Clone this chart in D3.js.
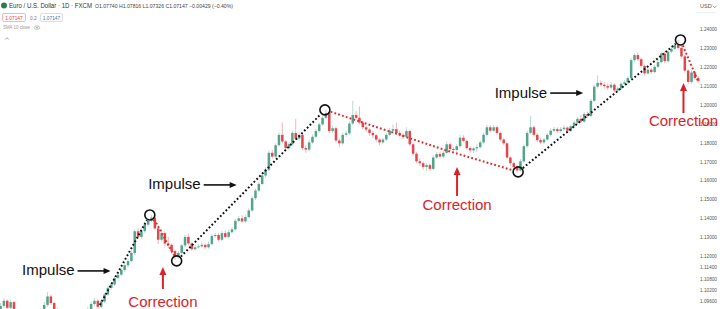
<!DOCTYPE html>
<html><head><meta charset="utf-8">
<script src="https://cdn.jsdelivr.net/npm/d3@7"></script>
<style>html,body{margin:0;padding:0;background:#fff;overflow:hidden}</style>
</head><body><svg id="c" width="720" height="309"></svg>
<script>
// ---- DATA (EUR/USD daily candles) ----
const opens = [
1.0900,1.0935,1.0962,1.0925,1.0955,1.0905,1.0880,1.0868,1.0885,1.0872,
1.0860,1.0878,1.0890,1.0912,1.0940,1.0985,1.0950,1.0915,1.0893,1.0875,
1.0888,1.0870,1.0858,1.0875,1.0890,1.0880,1.0900,1.0918,1.0945,1.0962,
1.0930,1.0958,1.0995,1.1030,1.1048,1.1082,1.1100,1.1125,1.1150,1.1172,
1.1215,1.1330,1.1300,1.1330,1.1365,1.1385,1.1402,1.1345,1.1285,1.1320,
1.1265,1.1258,1.1225,1.1195,1.1215,1.1255,1.1300,1.1265,1.1235,1.1245,
1.1250,1.1258,1.1245,1.1262,1.1305,1.1310,1.1285,1.1320,1.1300,1.1325,
1.1340,1.1385,1.1398,1.1382,1.1405,1.1440,1.1505,1.1545,1.1580,1.1625,
1.1655,1.1745,1.1725,1.1785,1.1840,1.1805,1.1770,1.1790,1.1850,1.1820,
1.1840,1.1770,1.1762,1.1800,1.1830,1.1860,1.1895,1.1930,1.1955,1.1860,
1.1875,1.1810,1.1795,1.1840,1.1848,1.1900,1.1945,1.1930,1.1905,1.1880,
1.1868,1.1850,1.1838,1.1815,1.1800,1.1815,1.1840,1.1862,1.1870,1.1850,
1.1840,1.1830,1.1860,1.1790,1.1740,1.1700,1.1690,1.1670,1.1680,1.1660,
1.1720,1.1738,1.1725,1.1745,1.1790,1.1765,1.1760,1.1780,1.1825,1.1808,
1.1770,1.1758,1.1768,1.1775,1.1800,1.1840,1.1880,1.1862,1.1880,1.1850,
1.1815,1.1795,1.1720,1.1690,1.1670,1.1652,1.1700,1.1780,1.1850,1.1880,
1.1840,1.1812,1.1800,1.1815,1.1840,1.1862,1.1870,1.1860,1.1870,1.1878,
1.1862,1.1885,1.1905,1.1925,1.1910,1.1950,1.1940,1.2020,1.2095,1.2115,
1.2105,1.2098,1.2090,1.2105,1.2075,1.2085,1.2110,1.2118,1.2140,1.2235,
1.2262,1.2240,1.2205,1.2165,1.2185,1.2172,1.2200,1.2225,1.2270,1.2230,
1.2280,1.2295,1.2315,1.2300,1.2255,1.2180,1.2120,1.2170,1.2140];
const highs = [
1.0950,1.0975,1.0970,1.0968,1.0960,1.0912,1.0890,1.0895,1.0893,1.0880,
1.0888,1.0902,1.0920,1.0955,1.1008,1.0995,1.0958,1.0925,1.0900,1.0898,
1.0895,1.0878,1.0885,1.0900,1.0898,1.0910,1.0930,1.0958,1.0975,1.0970,
1.0968,1.1005,1.1040,1.1060,1.1092,1.1115,1.1138,1.1165,1.1185,1.1228,
1.1340,1.1345,1.1345,1.1380,1.1398,1.1416,1.1408,1.1352,1.1340,1.1330,
1.1300,1.1265,1.1232,1.1225,1.1262,1.1312,1.1318,1.1272,1.1258,1.1262,
1.1270,1.1265,1.1275,1.1315,1.1322,1.1320,1.1332,1.1335,1.1338,1.1352,
1.1395,1.1410,1.1415,1.1418,1.1452,1.1515,1.1555,1.1592,1.1640,1.1668,
1.1758,1.1760,1.1795,1.1852,1.1905,1.1812,1.1802,1.1862,1.1925,1.1852,
1.1848,1.1785,1.1812,1.1842,1.1872,1.1905,1.1942,1.1972,1.1962,1.1888,
1.1882,1.1820,1.1852,1.1862,1.1912,1.2020,1.1965,1.1990,1.1912,1.1890,
1.1875,1.1860,1.1845,1.1822,1.1825,1.1850,1.1875,1.1895,1.1905,1.1862,
1.1850,1.1880,1.1868,1.1798,1.1748,1.1715,1.1698,1.1690,1.1690,1.1732,
1.1750,1.1750,1.1755,1.1805,1.1800,1.1775,1.1790,1.1840,1.1838,1.1815,
1.1780,1.1778,1.1790,1.1812,1.1852,1.1892,1.1892,1.1892,1.1888,1.1858,
1.1822,1.1802,1.1728,1.1698,1.1678,1.1712,1.1790,1.1862,1.1940,1.1890,
1.1848,1.1822,1.1825,1.1850,1.1875,1.1882,1.1880,1.1882,1.1890,1.1885,
1.1895,1.1915,1.1935,1.1945,1.1960,1.1962,1.2030,1.2105,1.2155,1.2128,
1.2118,1.2112,1.2118,1.2112,1.2095,1.2120,1.2130,1.2150,1.2245,1.2272,
1.2275,1.2248,1.2212,1.2195,1.2195,1.2212,1.2235,1.2280,1.2282,1.2290,
1.2308,1.2325,1.2342,1.2320,1.2262,1.2190,1.2182,1.2178,1.2150];
const lows = [
1.0885,1.0925,1.0910,1.0915,1.0890,1.0865,1.0855,1.0858,1.0860,1.0848,
1.0850,1.0868,1.0880,1.0905,1.0930,1.0940,1.0900,1.0880,1.0862,1.0865,
1.0860,1.0845,1.0850,1.0865,1.0870,1.0872,1.0890,1.0910,1.0935,1.0920,
1.0922,1.0950,1.0988,1.1020,1.1040,1.1075,1.1092,1.1115,1.1140,1.1165,
1.1205,1.1290,1.1290,1.1320,1.1355,1.1378,1.1338,1.1262,1.1275,1.1250,
1.1240,1.1212,1.1178,1.1185,1.1205,1.1245,1.1255,1.1225,1.1228,1.1238,
1.1240,1.1235,1.1238,1.1255,1.1295,1.1275,1.1278,1.1292,1.1292,1.1318,
1.1332,1.1378,1.1375,1.1375,1.1398,1.1432,1.1495,1.1538,1.1572,1.1615,
1.1648,1.1715,1.1718,1.1778,1.1795,1.1758,1.1760,1.1782,1.1812,1.1810,
1.1760,1.1745,1.1752,1.1792,1.1822,1.1852,1.1888,1.1922,1.1850,1.1850,
1.1800,1.1775,1.1788,1.1830,1.1840,1.1892,1.1920,1.1895,1.1870,1.1855,
1.1835,1.1822,1.1800,1.1785,1.1792,1.1808,1.1832,1.1855,1.1842,1.1830,
1.1818,1.1822,1.1780,1.1730,1.1690,1.1675,1.1655,1.1648,1.1648,1.1652,
1.1712,1.1715,1.1715,1.1738,1.1755,1.1745,1.1750,1.1772,1.1800,1.1760,
1.1745,1.1745,1.1750,1.1768,1.1792,1.1832,1.1852,1.1855,1.1840,1.1805,
1.1785,1.1710,1.1678,1.1658,1.1640,1.1645,1.1692,1.1772,1.1842,1.1830,
1.1802,1.1790,1.1792,1.1808,1.1832,1.1855,1.1850,1.1852,1.1862,1.1852,
1.1855,1.1878,1.1898,1.1902,1.1902,1.1930,1.1932,1.2012,1.2085,1.2095,
1.2085,1.2078,1.2080,1.2065,1.2065,1.2078,1.2102,1.2110,1.2132,1.2228,
1.2232,1.2195,1.2155,1.2158,1.2162,1.2165,1.2192,1.2218,1.2220,1.2222,
1.2272,1.2288,1.2290,1.2245,1.2170,1.2110,1.2110,1.2130,1.2115];
const closes = [
1.0935,1.0962,1.0925,1.0955,1.0905,1.0880,1.0868,1.0885,1.0872,1.0860,
1.0878,1.0890,1.0912,1.0940,1.0985,1.0950,1.0915,1.0893,1.0875,1.0888,
1.0870,1.0858,1.0875,1.0890,1.0880,1.0900,1.0918,1.0945,1.0962,1.0930,
1.0958,1.0995,1.1030,1.1048,1.1082,1.1100,1.1125,1.1150,1.1172,1.1215,
1.1330,1.1300,1.1330,1.1365,1.1385,1.1402,1.1345,1.1285,1.1320,1.1265,
1.1258,1.1225,1.1195,1.1215,1.1255,1.1300,1.1265,1.1235,1.1245,1.1250,
1.1258,1.1245,1.1262,1.1305,1.1310,1.1285,1.1320,1.1300,1.1325,1.1340,
1.1385,1.1398,1.1382,1.1405,1.1440,1.1505,1.1545,1.1580,1.1625,1.1655,
1.1745,1.1725,1.1785,1.1840,1.1805,1.1770,1.1790,1.1850,1.1820,1.1840,
1.1770,1.1762,1.1800,1.1830,1.1860,1.1895,1.1930,1.1955,1.1860,1.1875,
1.1810,1.1795,1.1840,1.1848,1.1900,1.1945,1.1930,1.1905,1.1880,1.1868,
1.1850,1.1838,1.1815,1.1800,1.1815,1.1840,1.1862,1.1870,1.1850,1.1840,
1.1830,1.1860,1.1790,1.1740,1.1700,1.1690,1.1670,1.1680,1.1660,1.1720,
1.1738,1.1725,1.1745,1.1790,1.1765,1.1760,1.1780,1.1825,1.1808,1.1770,
1.1758,1.1768,1.1775,1.1800,1.1840,1.1880,1.1862,1.1880,1.1850,1.1815,
1.1795,1.1720,1.1690,1.1670,1.1652,1.1700,1.1780,1.1850,1.1880,1.1840,
1.1812,1.1800,1.1815,1.1840,1.1862,1.1870,1.1860,1.1870,1.1878,1.1862,
1.1885,1.1905,1.1925,1.1910,1.1950,1.1940,1.2020,1.2095,1.2115,1.2105,
1.2098,1.2090,1.2105,1.2075,1.2085,1.2110,1.2118,1.2140,1.2235,1.2262,
1.2240,1.2205,1.2165,1.2185,1.2172,1.2200,1.2225,1.2270,1.2230,1.2280,
1.2295,1.2315,1.2300,1.2255,1.2180,1.2120,1.2170,1.2140,1.2125];

const tickValues = [1.24,1.23,1.22,1.21,1.20,1.19,1.18,1.17,1.16,1.15,1.14,1.13,1.12,1.114,1.108,1.102,1.096];

// swing points (candle index, price)
const pivots = [
  {i:44.5, p:1.1416}, {i:52.5, p:1.1173}, {i:96.7, p:1.1972},
  {i:154.3, p:1.1644}, {i:202.7, p:1.2342}
];
const impulseStart = {i:29.6, p:1.0940};
const corr1Mid = [{i:46.6,p:1.1368},{i:48.1,p:1.1321},{i:49.6,p:1.1268},{i:51.05,p:1.1226}];
const corr2Mid = [{i:132.5,p:1.1760}];
const corr3End = {i:207.8, p:1.2130};
const impulseTips = [{i:32.8,p:1.1120},{i:70.4,p:1.1575},{i:173.7,p:1.2061}];
const correctionTips = [{i:48.4,p:1.1141},{i:136.1,p:1.1670},{i:203.6,p:1.2114}];
const impulseText = "Impulse";
const correctionText = "Correction";

// ---- DRAW ----
const W = 720, H = 309, N = closes.length;
const svg = d3.select("#c");
const FONT = "'Liberation Sans', Arial, sans-serif";
const GREEN = "#55a38a", RED = "#e2474f";

const xb = d3.scaleBand().domain(d3.range(N)).range([-0.7, 699.5]).paddingInner(0.25).paddingOuter(0);
const bw = xb.bandwidth();
const xi = d3.scaleLinear().domain([0, N-1]).range([xb(0)+bw/2, xb(N-1)+bw/2]);
const y = d3.scaleLinear().domain([1.08, 1.24]).range([331.4, 29]);

// price axis labels
const axis = d3.axisRight(y).tickValues(tickValues).tickFormat(d3.format(".5f")).tickSize(0).tickPadding(0);
const ag = svg.append("g").attr("transform","translate(700,0)").call(axis);
ag.select(".domain").remove();
ag.selectAll("text").attr("font-family",FONT).attr("font-size",5.6).attr("fill","#555")
  .attr("textLength",17).attr("lengthAdjust","spacingAndGlyphs");

// candles
const cg = svg.append("g");
const idx = d3.range(N);
cg.selectAll("line.w").data(idx).join("line")
  .attr("x1", i=>xb(i)+bw/2).attr("x2", i=>xb(i)+bw/2)
  .attr("y1", i=>y(highs[i])).attr("y2", i=>y(lows[i]))
  .attr("stroke", i=>closes[i]>=opens[i]?GREEN:RED).attr("stroke-opacity",0.5).attr("stroke-width",0.8);
cg.selectAll("rect.b").data(idx).join("rect")
  .attr("x", i=>xb(i)).attr("width", bw)
  .attr("y", i=>y(Math.max(opens[i],closes[i])))
  .attr("height", i=>Math.max(1, Math.abs(y(opens[i])-y(closes[i]))))
  .attr("fill", i=>closes[i]>=opens[i]?GREEN:RED);

// helpers
const P = d => [xi(d.i), y(d.p)];
const R = 5;
function trim(pts, s, e){
  pts = pts.map(p=>p.slice());
  if(s){ const [a,b]=[pts[0],pts[1]]; const L=Math.hypot(b[0]-a[0],b[1]-a[1]); pts[0]=[a[0]+(b[0]-a[0])*s/L, a[1]+(b[1]-a[1])*s/L]; }
  if(e){ const n=pts.length; const [a,b]=[pts[n-1],pts[n-2]]; const L=Math.hypot(b[0]-a[0],b[1]-a[1]); pts[n-1]=[a[0]+(b[0]-a[0])*e/L, a[1]+(b[1]-a[1])*e/L]; }
  return pts;
}
const line = d3.line();
const ann = svg.append("g");
function dotted(pts, color){
  ann.append("path").attr("d", line(pts)).attr("fill","none").attr("stroke",color)
    .attr("stroke-width",2).attr("stroke-dasharray","1.8,2.2");
}
// impulse lines (black)
dotted(trim([P(impulseStart), P(pivots[0])], 0, R+1), "#111");
dotted(trim([P(pivots[1]), P(pivots[2])], R+1, R+1), "#111");
dotted(trim([P(pivots[3]), P(pivots[4])], R+1, R+1), "#111");
// corrections (red)
const RED2 = "#e02a2a";
dotted(trim([P(pivots[0]), ...corr1Mid.map(P), P(pivots[1])], R+1, R+1), RED2);
dotted(trim([P(pivots[2]), ...corr2Mid.map(P), P(pivots[3])], R+1, R+1), RED2);
dotted(trim([P(pivots[4]), P(corr3End)], R+1, 0), RED2);
// pivot circles
ann.selectAll("circle.pv").data(pivots).join("circle")
  .attr("cx", d=>xi(d.i)).attr("cy", d=>y(d.p)).attr("r", R)
  .attr("fill","none").attr("stroke","#111").attr("stroke-width",1.6);

// Impulse labels with arrows
impulseTips.forEach(d=>{
  const [tx,ty] = P(d);
  ann.append("line").attr("x1",tx-33).attr("x2",tx-6).attr("y1",ty).attr("y2",ty).attr("stroke","#111").attr("stroke-width",1.6);
  ann.append("path").attr("d",`M${tx},${ty}L${tx-7},${ty-3}L${tx-7},${ty+3}Z`).attr("fill","#111");
  ann.append("text").attr("x",tx-36).attr("y",ty+4.5).attr("text-anchor","end")
    .attr("font-family",FONT).attr("font-size",15).attr("fill","#111").text(impulseText);
});
// Correction labels with arrows
const corrLen = [22, 29, 30], corrBase = [39.8, 43, 43];
correctionTips.forEach((d,k)=>{
  const [tx,ty] = P(d);
  ann.append("line").attr("x1",tx).attr("x2",tx).attr("y1",ty+6).attr("y2",ty+corrLen[k]).attr("stroke","#d9232b").attr("stroke-width",2);
  ann.append("path").attr("d",`M${tx},${ty}L${tx-3.5},${ty+8}L${tx+3.5},${ty+8}Z`).attr("fill","#d9232b");
  ann.append("text").attr("x",tx).attr("y",ty+corrBase[k]).attr("text-anchor","middle")
    .attr("font-family",FONT).attr("font-size",15).attr("fill","#d9232b").text(correctionText);
});

// header (legend)
const hd = svg.append("g").attr("font-family",FONT);
hd.append("circle").attr("cx",4).attr("cy",5.5).attr("r",3).attr("fill","#2e7d4f");
hd.append("text").attr("x",9).attr("y",8.3).attr("font-size",7).attr("fill","#333")
  .attr("textLength",83).attr("lengthAdjust","spacingAndGlyphs").text("Euro / U.S. Dollar · 1D · FXCM");
hd.append("text").attr("x",95).attr("y",8).attr("font-size",5.2).attr("fill","#444")
  .attr("textLength",138).attr("lengthAdjust","spacingAndGlyphs").text("O1.07740 H1.07816 L1.07326 C1.07147 −0.00429 (−0.40%)");
hd.append("rect").attr("x",2.5).attr("y",13.5).attr("width",23).attr("height",8).attr("rx",1.5)
  .attr("fill","#fff").attr("stroke","#f19a9a").attr("stroke-width",0.7);
hd.append("text").attr("x",14).attr("y",19.6).attr("text-anchor","middle").attr("font-size",4.8).attr("fill","#e53935").text("1.07147");
hd.append("text").attr("x",30).attr("y",19.6).attr("font-size",4.8).attr("fill","#777").text("0.2");
hd.append("rect").attr("x",40.5).attr("y",13.5).attr("width",22).attr("height",8).attr("rx",1.5)
  .attr("fill","#fff").attr("stroke","#c9d1de").attr("stroke-width",0.7);
hd.append("text").attr("x",51.5).attr("y",19.6).attr("text-anchor","middle").attr("font-size",4.8).attr("fill","#4a6fa5").text("1.07147");
hd.append("text").attr("x",3).attr("y",29).attr("font-size",4.5).attr("fill","#9a9a9a")
  .attr("textLength",27).attr("lengthAdjust","spacingAndGlyphs").text("SMA 10 close");
hd.append("ellipse").attr("cx",37).attr("cy",27.6).attr("rx",2.8).attr("ry",1.7).attr("fill","none").attr("stroke","#999").attr("stroke-width",0.6);
hd.append("circle").attr("cx",37).attr("cy",27.6).attr("r",0.8).attr("fill","#999");
hd.append("path").attr("d","M5.2,39.5L7,37.7L8.8,39.5").attr("fill","none").attr("stroke","#777").attr("stroke-width",0.7);
// currency selector
hd.append("text").attr("x",700).attr("y",8).attr("font-size",5.6).attr("fill","#555").text("USD");
hd.append("path").attr("d","M713,5.8L714.8,7.6L716.6,5.8").attr("fill","none").attr("stroke","#666").attr("stroke-width",0.7);
hd.append("line").attr("x1",696).attr("x2",716).attr("y1",12.6).attr("y2",12.6).attr("stroke","#eee").attr("stroke-width",1);
</script>
</body></html>
